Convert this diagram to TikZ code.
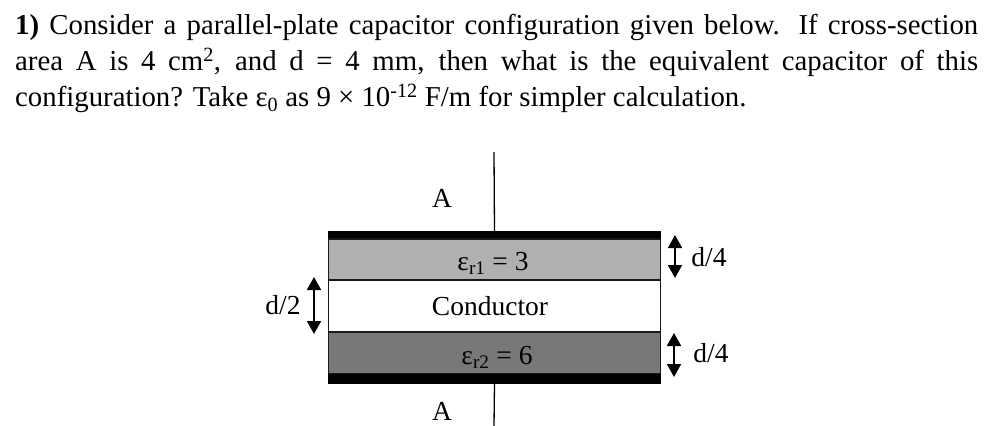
\documentclass[tikz,border=0pt]{standalone}
\usepackage{fontspec}
\setmainfont{Liberation Serif}
\usetikzlibrary{positioning,arrows.meta}

\tikzset{
  layer/.style={draw=black!90, line width=1.2pt, minimum width=332pt, inner sep=0pt, outer sep=0pt},
  plate/.style={fill=black, minimum width=333pt, inner sep=0pt, outer sep=0pt},
  lead/.style={line width=1.3pt},
  gap/.style={line width=1.8pt, {Triangle[width=14pt,length=13pt]}-{Triangle[width=14pt,length=13pt]}},
  lab/.style={font=\fontsize{27.5}{27.5}\selectfont, inner sep=0pt}
}

\begin{document}
\begin{tikzpicture}[x=1pt, y=-1pt]
  \useasboundingbox (0,0) rectangle (989,426);

  \node[anchor=north west, inner sep=0pt, text width=963pt, align=justify,
        font=\fontsize{28.8}{36}\selectfont] (question) at (15,14)
    {\textbf{1)} Consider a parallel-plate capacitor configuration given below. If cross-section\linebreak
     area A is 4 cm\textsuperscript{2}, and d = 4 mm, then what is the equivalent capacitor of this\linebreak
     configuration? Take ε\textsubscript{0} as 9 × 10\textsuperscript{-12} F/m for simpler calculation.};

  \node[plate, minimum height=8pt, anchor=north] (top) at (494.5,231) {};
  \node[layer, fill=black!31, minimum height=41pt, below=0pt of top] (er1) {};
  \node[layer, fill=white, minimum height=52pt, below=0pt of er1] (cond) {};
  \node[layer, fill=black!53, minimum height=42pt, below=0pt of cond] (er2) {};
  \node[plate, minimum height=10pt, below=0pt of er2] (bot) {};

  \coordinate (topend) at (494,152);
  \coordinate (botend) at (494,426);
  \draw[lead] (top.north) -- (topend);
  \draw[lead] (bot.south) -- (botend);

  \node[lab] (a1) at (442,198) {A};
  \node[lab] (a2) at (442,411) {A};
  \node[lab] (l1) at (493,263) {ε\textsubscript{r1} = 3};
  \node[lab] (l2) at (490,306) {Conductor};
  \node[lab] (l3) at (497,357) {ε\textsubscript{r2} = 6};

  \node[lab] (d1) at (709,257) {d/4};
  \node[lab] (d2) at (711,353) {d/4};
  \node[lab] (d3) at (283,305) {d/2};

  \coordinate (g1a) at (675,235);
  \coordinate (g1b) at (675,278);
  \coordinate (g2a) at (674,333);
  \coordinate (g2b) at (674,377);
  \coordinate (g3a) at (314,277);
  \coordinate (g3b) at (314,334);
  \draw[gap] (g1a) -- (g1b);
  \draw[gap] (g2a) -- (g2b);
  \draw[gap] (g3a) -- (g3b);
\end{tikzpicture}
\end{document}
